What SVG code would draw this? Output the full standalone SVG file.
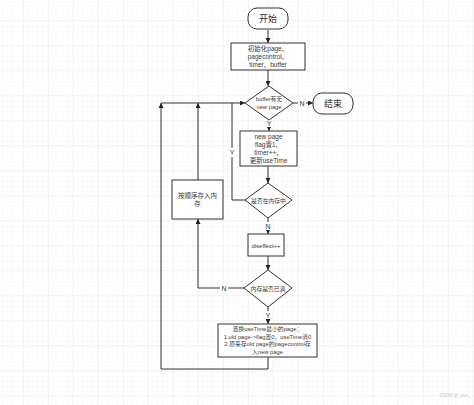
<svg xmlns="http://www.w3.org/2000/svg" width="474" height="405" viewBox="0 0 474 405">
<defs>
<pattern id="minor" width="5" height="5" patternUnits="userSpaceOnUse" x="-1" y="-4">
<path d="M5 0V5M0 5H5" fill="none" stroke="#f2f2f2" stroke-width="0.6"/>
</pattern>
<pattern id="major" width="25" height="25" patternUnits="userSpaceOnUse" x="-1" y="-4">
<rect width="25" height="25" fill="url(#minor)"/>
<path d="M25 0V25M0 25H25" fill="none" stroke="#e6e6e6" stroke-width="0.8"/>
</pattern>
<marker id="arr" viewBox="0 0 8 8" refX="8" refY="4" markerWidth="5" markerHeight="5" orient="auto" markerUnits="userSpaceOnUse">
<path d="M0 0L8 4L0 8Z" fill="#222"/>
</marker>
<style>
.shape{fill:#fff;stroke:#333;stroke-width:1}
.t{font-family:"Liberation Sans","Noto Sans CJK SC",sans-serif;font-size:6.5px;fill:#3a3a3a;text-anchor:middle}
.d{font-family:"Liberation Sans","Noto Sans CJK SC",sans-serif;font-size:5.8px;fill:#3a3a3a;text-anchor:middle}
.lbl{font-family:"Liberation Sans","Noto Sans CJK SC",sans-serif;font-size:7px;fill:#333;text-anchor:middle}
.c{fill:none;stroke:#333;stroke-width:1}
</style>
</defs>
<rect width="474" height="405" fill="#fff"/>
<rect width="474" height="405" fill="url(#major)"/>

<g id="connectors">
<path class="c" d="M268 30V43" marker-end="url(#arr)"/>
<path class="c" d="M268 70V86" marker-end="url(#arr)"/>
<path class="c" d="M293 103H313" marker-end="url(#arr)"/>
<path class="c" d="M269 120V131" marker-end="url(#arr)"/>
<path class="c" d="M268 166V183" marker-end="url(#arr)"/>
<path class="c" d="M245 200H232V103"/>
<path class="c" d="M161 103H245" marker-end="url(#arr)"/>
<path class="c" d="M268 218V234" marker-end="url(#arr)"/>
<path class="c" d="M268 256V270" marker-end="url(#arr)"/>
<path class="c" d="M244 288H198V219" marker-end="url(#arr)"/>
<path class="c" d="M198 180V103" marker-end="url(#arr)"/>
<path class="c" d="M268 307V324" marker-end="url(#arr)"/>
<path class="c" d="M268 357V369H161V103" marker-end="url(#arr)"/>
<rect x="298" y="99" width="8" height="8" fill="#fff"/>
<text class="lbl" x="302" y="105.5">N</text>
<rect x="265" y="119" width="8" height="8" fill="#fff"/>
<text class="lbl" x="269" y="125.5">Y</text>
<rect x="228" y="148" width="8" height="9" fill="#fff"/>
<text class="lbl" x="232" y="155">Y</text>
<rect x="264" y="222" width="8" height="8" fill="#fff"/>
<text class="lbl" x="268" y="229">N</text>
<rect x="220" y="284" width="8" height="8" fill="#fff"/>
<text class="lbl" x="224" y="290.5">N</text>
<rect x="264" y="311" width="8" height="8" fill="#fff"/>
<text class="lbl" x="268" y="317.5">Y</text>
</g>

<g id="start">
<rect class="shape" x="248" y="8" width="40" height="21" rx="9"/>
<text class="lbl" x="268" y="21.5" style="font-size:9px">开始</text>
</g>
<g id="init">
<rect class="shape" x="231" y="43" width="74" height="27"/>
<text class="t" x="268" y="51">初始化page、</text>
<text class="t" x="268" y="59">pagecontrol、</text>
<text class="t" x="268" y="67">timer、buffer</text>
</g>
<g id="hasPage">
<polygon class="shape" points="269,86 293,103 269,120 245,103"/>
<text class="d" x="269" y="101">buffer有无</text>
<text class="d" x="269" y="109">new page</text>
</g>
<g id="end">
<rect class="shape" x="313" y="93" width="40" height="21" rx="9"/>
<text class="lbl" x="333" y="106.5" style="font-size:9px">结束</text>
</g>
<g id="newPage">
<rect class="shape" x="240" y="131" width="57" height="35"/>
<text class="t" x="268.5" y="139">new page</text>
<text class="t" x="268.5" y="147">flag置1、</text>
<text class="t" x="268.5" y="155">timer++、</text>
<text class="t" x="268.5" y="163">更新useTime</text>
</g>
<g id="inMem">
<polygon class="shape" points="268,183 292,200 268,218 245,200"/>
<text class="d" x="268.5" y="202.5">是否在内存中</text>
</g>
<g id="diseffect">
<rect class="shape" x="248" y="234" width="36" height="22"/>
<text class="t" x="266" y="247.5" style="font-size:6px">diseffect++</text>
</g>
<g id="full">
<polygon class="shape" points="268,270 292,288 268,307 244,288"/>
<text class="d" x="268" y="290.5">内存是否已满</text>
</g>
<g id="store">
<rect class="shape" x="172" y="180" width="51" height="39"/>
<text class="t" x="197.5" y="198">按顺序存入内</text>
<text class="t" x="197.5" y="206">存</text>
</g>
<g id="replace">
<rect class="shape" x="218" y="324" width="99" height="33"/>
<text class="d" x="267.5" y="330.5">置换useTime最小的page：</text>
<text class="d" x="267.5" y="338.5">1.old page-&gt;flag置0，useTime清0</text>
<text class="d" x="267.5" y="346">2.原来存old page的pagecontrol存</text>
<text class="d" x="267.5" y="353.5">入new page</text>
</g>
<text x="455" y="397" style="font-family:'Liberation Sans',sans-serif;font-size:4.5px;fill:#c8c8c8;text-anchor:middle">CSDN @_yuu_</text>
</svg>
